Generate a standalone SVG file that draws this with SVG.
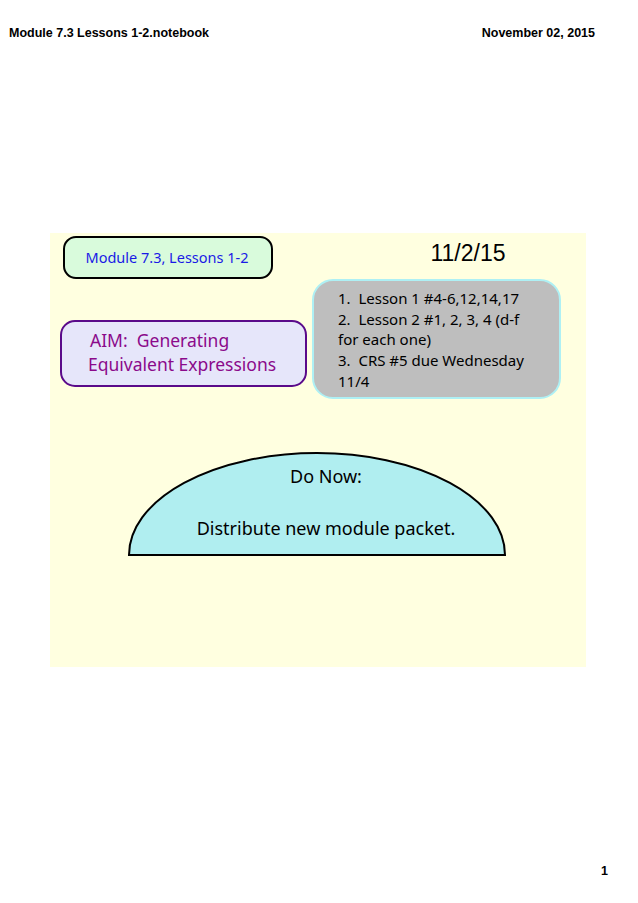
<svg xmlns="http://www.w3.org/2000/svg" width="638" height="903" viewBox="0 0 638 903">
<style>
.h{font-family:"Liberation Sans",Arial,sans-serif;font-weight:bold;font-size:12.5px;fill:#000}
.c{font-family:"Noto Sans","DejaVu Sans",sans-serif;white-space:pre}
</style>
<rect width="638" height="903" fill="#fff"/>
<text class="h" x="9" y="37">Module 7.3 Lessons 1-2.notebook</text>
<text class="h" x="595" y="37" text-anchor="end">November 02, 2015</text>
<text class="h" x="608" y="875" text-anchor="end">1</text>
<rect x="50" y="233" width="536" height="434" fill="#ffffe0"/>
<g id="module"><rect x="64" y="237" width="208" height="41" rx="12" fill="#d9fbdc" stroke="#000" stroke-width="2"/>
<text class="c" x="167" y="263" font-size="14.5" fill="#1a1ae6" text-anchor="middle">Module 7.3, Lessons 1-2</text></g>
<text x="468" y="261" font-family="Liberation Sans,Arial,sans-serif" font-size="23" text-anchor="middle">11/2/15</text>
<g id="aim"><rect x="61" y="321" width="245" height="65" rx="14" fill="#e6e6fa" stroke="#5a0a8a" stroke-width="2"/>
<text class="c" font-size="17.5" fill="#8b0a8b" xml:space="preserve"><tspan x="90" y="347">AIM:  Generating</tspan><tspan x="88" y="371">Equivalent Expressions</tspan></text></g>
<g id="hw"><rect x="313" y="280" width="247" height="118" rx="20" fill="#bebebe" stroke="#aef0f4" stroke-width="2"/>
<text class="c" font-size="15" fill="#000" xml:space="preserve"><tspan x="338" y="304">1.  Lesson 1 #4-6,12,14,17</tspan><tspan x="338" y="325">2.  Lesson 2 #1, 2, 3, 4 (d-f</tspan><tspan x="338" y="345">for each one)</tspan><tspan x="338" y="366">3.  CRS #5 due Wednesday</tspan><tspan x="338" y="387">11/4</tspan></text></g>
<g id="donow"><path d="M129,555 A188,102 0 0 1 505,555 Z" fill="#b0eef0" stroke="#000" stroke-width="2"/>
<text class="c" font-size="18" fill="#000" text-anchor="middle"><tspan x="326" y="483">Do Now:</tspan><tspan x="326" y="535">Distribute new module packet.</tspan></text></g>
<g id="connectors"/>
</svg>
